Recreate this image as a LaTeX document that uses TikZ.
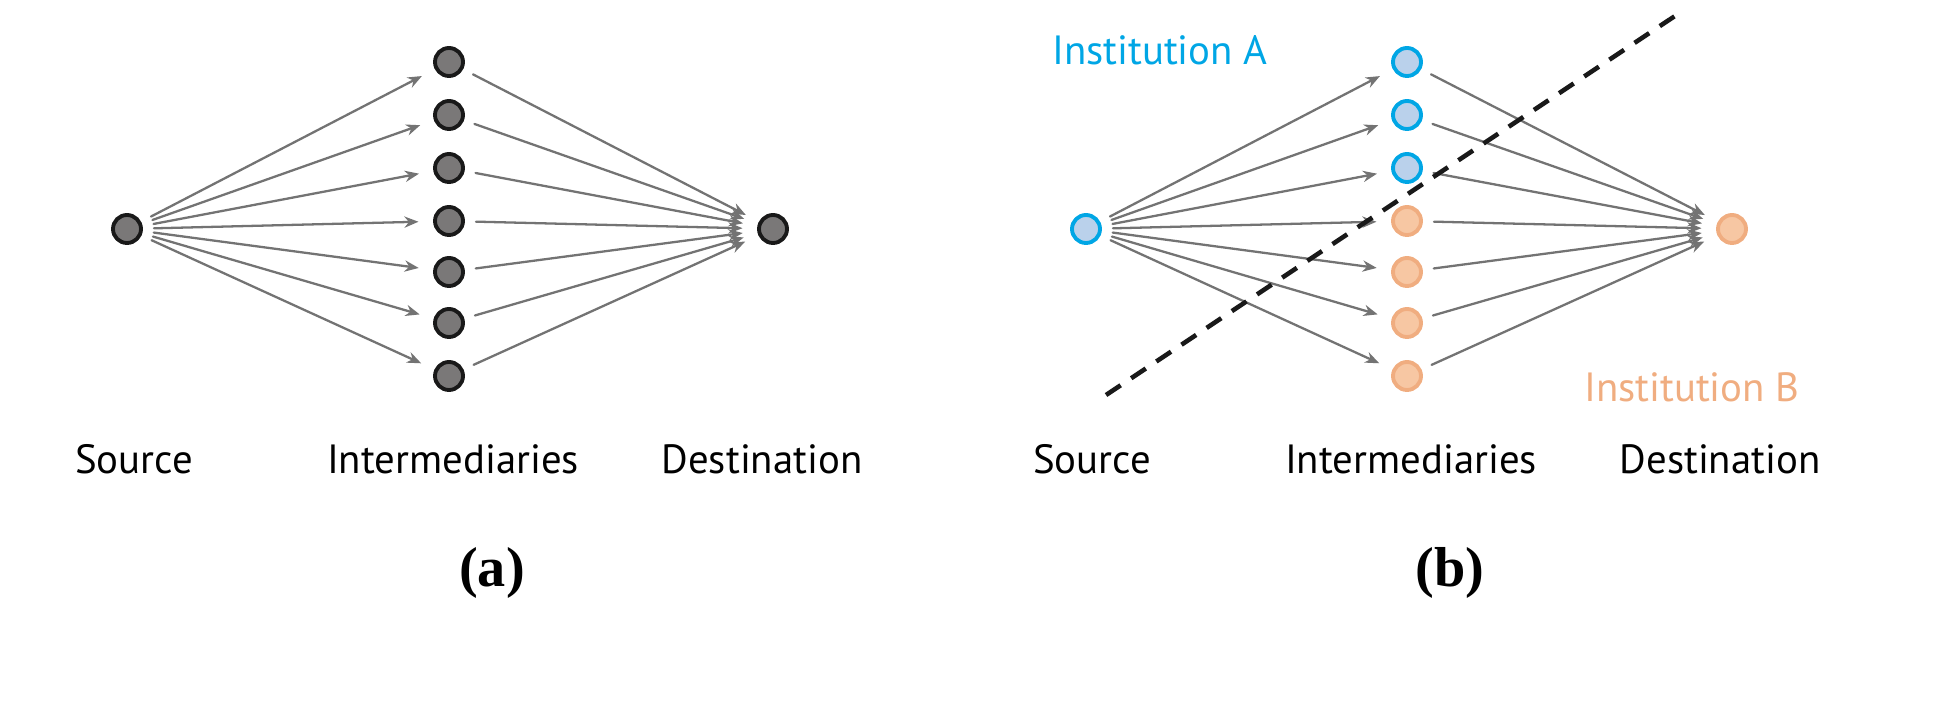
\documentclass[tikz,border=0pt]{standalone}
\usepackage{fontspec}
\setmainfont{PT Sans}
\newfontfamily\panelfont{Liberation Serif}
\usetikzlibrary{arrows.meta}
\definecolor{darkgrey}{rgb}{0.1,0.1,0.1}
\definecolor{nodegrey}{rgb}{0.48,0.47,0.47}
\definecolor{edgegrey}{rgb}{0.45,0.45,0.45}
\definecolor{instblue}{rgb}{0.0,0.65,0.9}
\definecolor{liteblue}{rgb}{0.73,0.82,0.92}
\definecolor{instorange}{rgb}{0.94,0.68,0.5}
\definecolor{liteorange}{rgb}{0.97,0.78,0.64}

\begin{document}
\begin{tikzpicture}[line cap=round,line join=round,x=0.01cm,y=-0.01cm,
	dot/.style={circle,draw,line width=1.1pt,minimum size=0.28cm,inner sep=0pt,outer sep=0.13cm},
	greydot/.style={dot,draw=darkgrey,fill=nodegrey},
	bluedot/.style={dot,draw=instblue,fill=liteblue},
	orangedot/.style={dot,draw=instorange,fill=liteorange},
	flow/.style={-{Stealth[length=4pt,width=3.2pt]},line width=0.65pt,color=edgegrey,shorten >=1pt},
	cut/.style={dashed,dash pattern=on 5pt off 3.6pt,line width=1.3pt,color=darkgrey,line cap=butt},
	lbl/.style={anchor=base,font=\fontsize{11.6}{13}\selectfont},
	panel/.style={anchor=base,font=\panelfont\bfseries\fontsize{16}{18}\selectfont}]
	\useasboundingbox (0,0) rectangle (1948,704);

	% (a) one institution
	\node[greydot] (srcA) at (127,229) {};
	\node[greydot] (dstA) at (773,229) {};
	\node[greydot] (midA1) at (449,62) {};
	\node[greydot] (midA2) at (449,115) {};
	\node[greydot] (midA3) at (449,168) {};
	\node[greydot] (midA4) at (449,221) {};
	\node[greydot] (midA5) at (449,272) {};
	\node[greydot] (midA6) at (449,323) {};
	\node[greydot] (midA7) at (449,376) {};

	% (b) split between two institutions
	\node[bluedot] (srcB) at (1086,229) {};
	\node[orangedot] (dstB) at (1732,229) {};
	\node[bluedot] (midB1) at (1407,62) {};
	\node[bluedot] (midB2) at (1407,115) {};
	\node[bluedot] (midB3) at (1407,168) {};
	\node[orangedot] (midB4) at (1407,221) {};
	\node[orangedot] (midB5) at (1407,272) {};
	\node[orangedot] (midB6) at (1407,323) {};
	\node[orangedot] (midB7) at (1407,376) {};

	\foreach \i in {1,...,7} {
		\draw[flow] (srcA) -- (midA\i);
		\draw[flow] (midA\i) -- (dstA);
		\draw[flow] (srcB) -- (midB\i);
		\draw[flow] (midB\i) -- (dstB);
	}

	\coordinate (cutlow) at (1106,395);
	\coordinate (cuthigh) at (1678,14);
	\draw[cut] (cutlow) -- (cuthigh);

	\node[lbl,text=instblue] (instA) at (1160,65) {Institution A};
	\node[lbl,text=instorange] (instB) at (1692,402) {Institution B};

	\node[lbl] (srcAlbl) at (134,474) {Source};
	\node[lbl] (midAlbl) at (453,474) {Intermediaries};
	\node[lbl] (dstAlbl) at (762,474) {Destination};
	\node[lbl] (srcBlbl) at (1092,474) {Source};
	\node[lbl] (midBlbl) at (1411,474) {Intermediaries};
	\node[lbl] (dstBlbl) at (1720,474) {Destination};

	\node[panel] (panelA) at (492,587) {(a)};
	\node[panel] (panelB) at (1450,587) {(b)};
\end{tikzpicture}
\end{document}
